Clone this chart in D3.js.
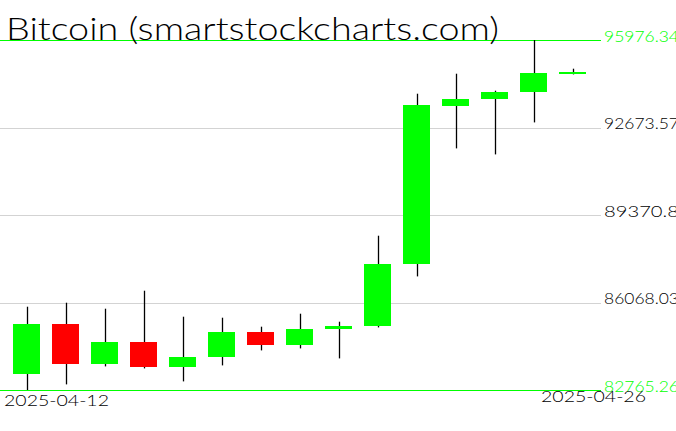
<!DOCTYPE html>
<html>
<head>
<meta charset="utf-8">
<script src="https://cdn.jsdelivr.net/npm/d3@7"></script>
<style>
  html, body { margin:0; padding:0; background:#fff; }
  svg { display:block; }
</style>
</head>
<body>
<div id="chart-area"></div>
<script>
// data
var dates  = ["2025-04-12","2025-04-13","2025-04-14","2025-04-15","2025-04-16",
              "2025-04-17","2025-04-18","2025-04-19","2025-04-20","2025-04-21",
              "2025-04-22","2025-04-23","2025-04-24","2025-04-25","2025-04-26"];
var opens  = [83354, 85268, 83731, 84588, 83618, 83996, 84966, 84449, 85053, 85166, 87506, 93470, 93734, 93998, 94678];
var closes = [85268, 83731, 84588, 83618, 84022, 84966, 84449, 85079, 85192, 87533, 93508, 93760, 94025, 94715, 94780];
var highs  = [85909, 86060, 85834, 86513, 85532, 85494, 85155, 85645, 85343, 88589, 93949, 94704, 94062, 95976.34, 94893];
var lows   = [82765.26, 82977, 83656, 83580, 83090, 83694, 84260, 84335, 83958, 85128, 87053, 91885, 91658, 92866, 94678];

var tickValues = [82765.26, 86068.03, 89370.80, 92673.57, 95976.34];
var tickLabels = ["82765.26", "86068.03", "89370.8", "92673.57", "95976.34"];
var title = "Bitcoin (smartstockcharts.com)";

var width = 676, height = 431;
var lineEnd = 601;
var thinFont = "Lato, 'DejaVu Sans', sans-serif";

var candles = dates.map(function(d, i){
    return {date:d, open:opens[i], close:closes[i], high:highs[i], low:lows[i]};
});

var svg = d3.select("#chart-area")
    .append("svg")
    .attr("width", width)
    .attr("height", height);

// scales
var x = d3.scaleBand()
    .domain(dates)
    .range([7, 592])
    .paddingInner(12/39)
    .paddingOuter(6/39);

var y = d3.scaleLinear()
    .domain([tickValues[0], tickValues[tickValues.length-1]])
    .range([390, 40]);

// grid + price labels
var rightAxis = d3.axisRight(y)
    .tickValues(tickValues)
    .tickSize(lineEnd)
    .tickPadding(3)
    .tickFormat(function(d, i){ return tickLabels[i]; });

var ga = svg.append("g")
    .attr("class","y-axis")
    .call(rightAxis);

ga.select(".domain").remove();
ga.selectAll(".tick line")
    .style("stroke", function(d, i){ return (i==0 || i==tickValues.length-1) ? "#00ff00" : "#d3d3d3"; })
    .style("stroke-width", "1px")
    .attr("shape-rendering","crispEdges");
ga.selectAll(".tick text")
    .attr("dy", "1px")
    .attr("font-family", thinFont)
    .style("font-weight", 300)
    .attr("font-size", 15)
    .attr("textLength", 75)
    .attr("lengthAdjust","spacingAndGlyphs")
    .style("fill", function(d, i){ return (i==0 || i==tickValues.length-1) ? "#00ff00" : "#000"; });

// title
svg.append("text")
    .attr("x", 6)
    .attr("y", 39.5)
    .attr("font-family", thinFont)
    .style("font-weight", 300)
    .attr("font-size", 32)
    .attr("textLength", 493)
    .attr("lengthAdjust","spacingAndGlyphs")
    .attr("fill","#000")
    .text(title);

// candles
var g = svg.append("g").attr("class","candles");

g.selectAll("line.wick")
    .data(candles)
    .enter()
    .append("line")
    .attr("class","wick")
    .attr("x1", function(d){ return Math.round(x(d.date) + x.bandwidth()/2) + 0.5; })
    .attr("x2", function(d){ return Math.round(x(d.date) + x.bandwidth()/2) + 0.5; })
    .attr("y1", function(d){ return y(d.high); })
    .attr("y2", function(d){ return y(d.low); })
    .attr("stroke","#000")
    .attr("stroke-width",1.3);

g.selectAll("rect.body")
    .data(candles)
    .enter()
    .append("rect")
    .attr("class","body")
    .attr("x", function(d){ return x(d.date); })
    .attr("width", x.bandwidth())
    .attr("y", function(d){ return y(Math.max(d.open, d.close)); })
    .attr("height", function(d){ return Math.max(1, Math.abs(y(d.open) - y(d.close))); })
    .attr("fill", function(d){ return d.close >= d.open ? "#00ff00" : "#ff0000"; })
    .attr("shape-rendering","crispEdges");

// date labels
svg.append("text")
    .attr("x", 4)
    .attr("y", 406)
    .attr("font-family", thinFont)
    .style("font-weight", 300)
    .attr("font-size", 15)
    .attr("textLength", 105)
    .attr("lengthAdjust","spacingAndGlyphs")
    .text(dates[0]);

svg.append("text")
    .attr("x", 541)
    .attr("y", 402)
    .attr("font-family", thinFont)
    .style("font-weight", 300)
    .attr("font-size", 15)
    .attr("textLength", 105)
    .attr("lengthAdjust","spacingAndGlyphs")
    .text(dates[dates.length-1]);
</script>
</body>
</html>
